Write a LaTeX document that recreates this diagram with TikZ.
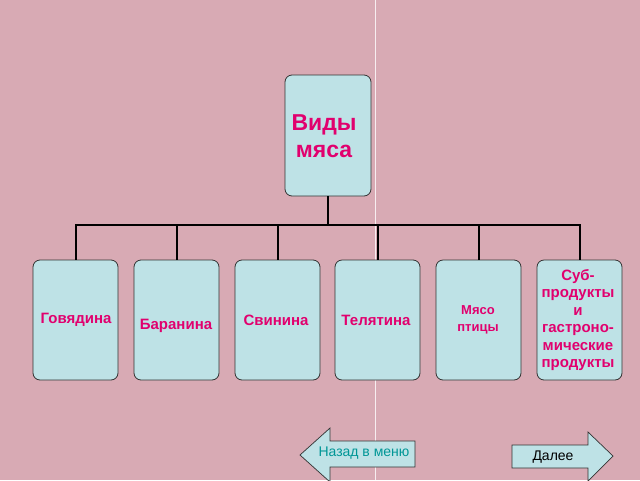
\documentclass[tikz,border=0pt]{standalone}
\usepackage{fontspec}
\setmainfont{Liberation Sans}
\begin{document}
\begin{tikzpicture}[x=1pt,y=-1pt,
  bx/.style={draw=black!80,fill=cyanbox,rounded corners=7pt,line width=0.8pt,align=center,inner sep=0pt},
  lb/.style={text=mag,font=\bfseries\fontsize{15}{17}\selectfont,align=center},
  ln/.style={line width=2pt,black}]
\definecolor{bg}{RGB}{216,170,180}
\definecolor{cyanbox}{RGB}{190,226,230}
\definecolor{mag}{RGB}{225,0,110}
\definecolor{teal2}{RGB}{0,150,150}
\useasboundingbox (0,0) rectangle (640,480);
\fill[bg] (0,0) rectangle (640,480);
\draw[white!80!bg,line width=1pt] (375,0) -- (375,480);
\node[bx,minimum width=86pt,minimum height=121pt] (top) at (328,135.5) {};
\node[text=mag,font=\bfseries\fontsize{23}{27}\selectfont,align=center] at (324,136) {Виды\\ мяса};
\foreach \n/\x in {a/75.5,b/176.5,c/277.5,d/377.5,e/478.5,f/579.5}
  \node[bx,minimum width=85pt,minimum height=120pt] (\n) at (\x,320) {};
\node[lb] at (76,320) {Говядина};
\node[lb] at (176,326) {Баранина};
\node[lb] at (276,320) {Свинина};
\node[lb] at (376,320) {Телятина};
\node[lb,font=\bfseries\fontsize{13}{17}\selectfont] at (478,320) {Мясо\\ птицы};
\node[lb,font=\bfseries\fontsize{15}{17.5}\selectfont] at (578,320) {Суб-\\продукты\\и\\гастроно-\\мические\\ продукты};
\coordinate (j) at (328,225);
\draw[ln] (top.south) -- (j);
\draw[ln] (a.north) -- (a.north |- j) -- (f.north |- j) -- (f.north);
\foreach \n in {b,c,d,e} \draw[ln] (\n.north) -- (\n.north |- j);
\draw[black!80,fill=cyanbox,line width=0.7pt] (415,441) -- (330,441) -- (330,428) -- (300,455) -- (330,482) -- (330,467) -- (415,467) -- cycle;
\node[text=teal2,font=\fontsize{14}{16}\selectfont] (back) at (364,453) {Назад в меню};
\draw[black!80,fill=cyanbox,line width=0.7pt] (512,445) -- (588,445) -- (588,432) -- (613,456) -- (588,481) -- (588,468) -- (512,468) -- cycle;
\node[font=\fontsize{14}{16}\selectfont] (next) at (553,457) {Далее};
\end{tikzpicture}
\end{document}
